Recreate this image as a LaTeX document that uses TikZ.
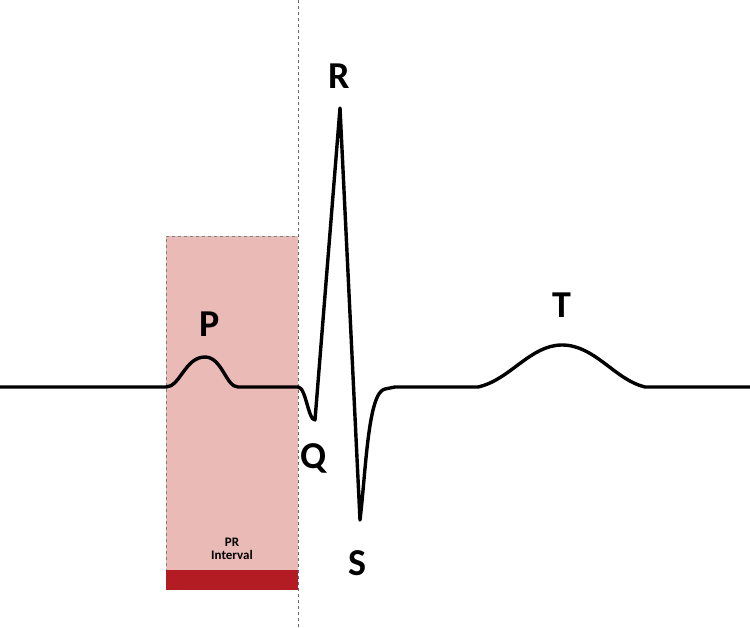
\documentclass[tikz,border=0pt]{standalone}
\usepackage{fontspec}
\setmainfont{Carlito}
\definecolor{pinkfill}{RGB}{234,186,182}
\definecolor{barred}{RGB}{178,28,34}
\begin{document}
\begin{tikzpicture}[x=1pt,y=-1pt,
  lbl/.style={font=\bfseries\fontsize{38}{38}\selectfont},
  ecg/.style={line width=3.4pt,line join=round,line cap=round}]
\useasboundingbox (0,0) rectangle (750,628);
\fill[white] (0,0) rectangle (750,628);
\fill[pinkfill] (166,236) rectangle (298,590);
\draw[gray,dashed,line width=0.6pt] (166,590) -- (166,236) -- (298,236);
\fill[barred] (166,570) rectangle (298,590);
\draw[gray!80!black,dashed,line width=0.8pt] (298,0) -- (298,628);
\node[font=\bfseries\fontsize{13}{13}\selectfont,align=center] (pr) at (232,549) {PR\\Interval};
\draw[ecg] (0,387) -- (166,387)
  .. controls (180,387) and (185,357) .. (205,357)
  .. controls (222,357) and (226,387) .. (238,387)
  -- (298,387)
  .. controls (306,387) and (308,420) .. (315,420)
  -- (340,108) -- (360,520)
  .. controls (366,470) and (368,392) .. (385,389)
  -- (395,387) -- (478,387)
  .. controls (510,380) and (530,345) .. (562,345)
  .. controls (595,345) and (615,380) .. (645,387)
  -- (750,387);
\node[lbl] (R) at (339,76) {R};
\node[lbl] (P) at (210,324) {P};
\node[lbl] (Q) at (314,458) {Q};
\node[lbl] (S) at (357,563) {S};
\node[lbl] (T) at (562,305) {T};
\end{tikzpicture}
\end{document}
